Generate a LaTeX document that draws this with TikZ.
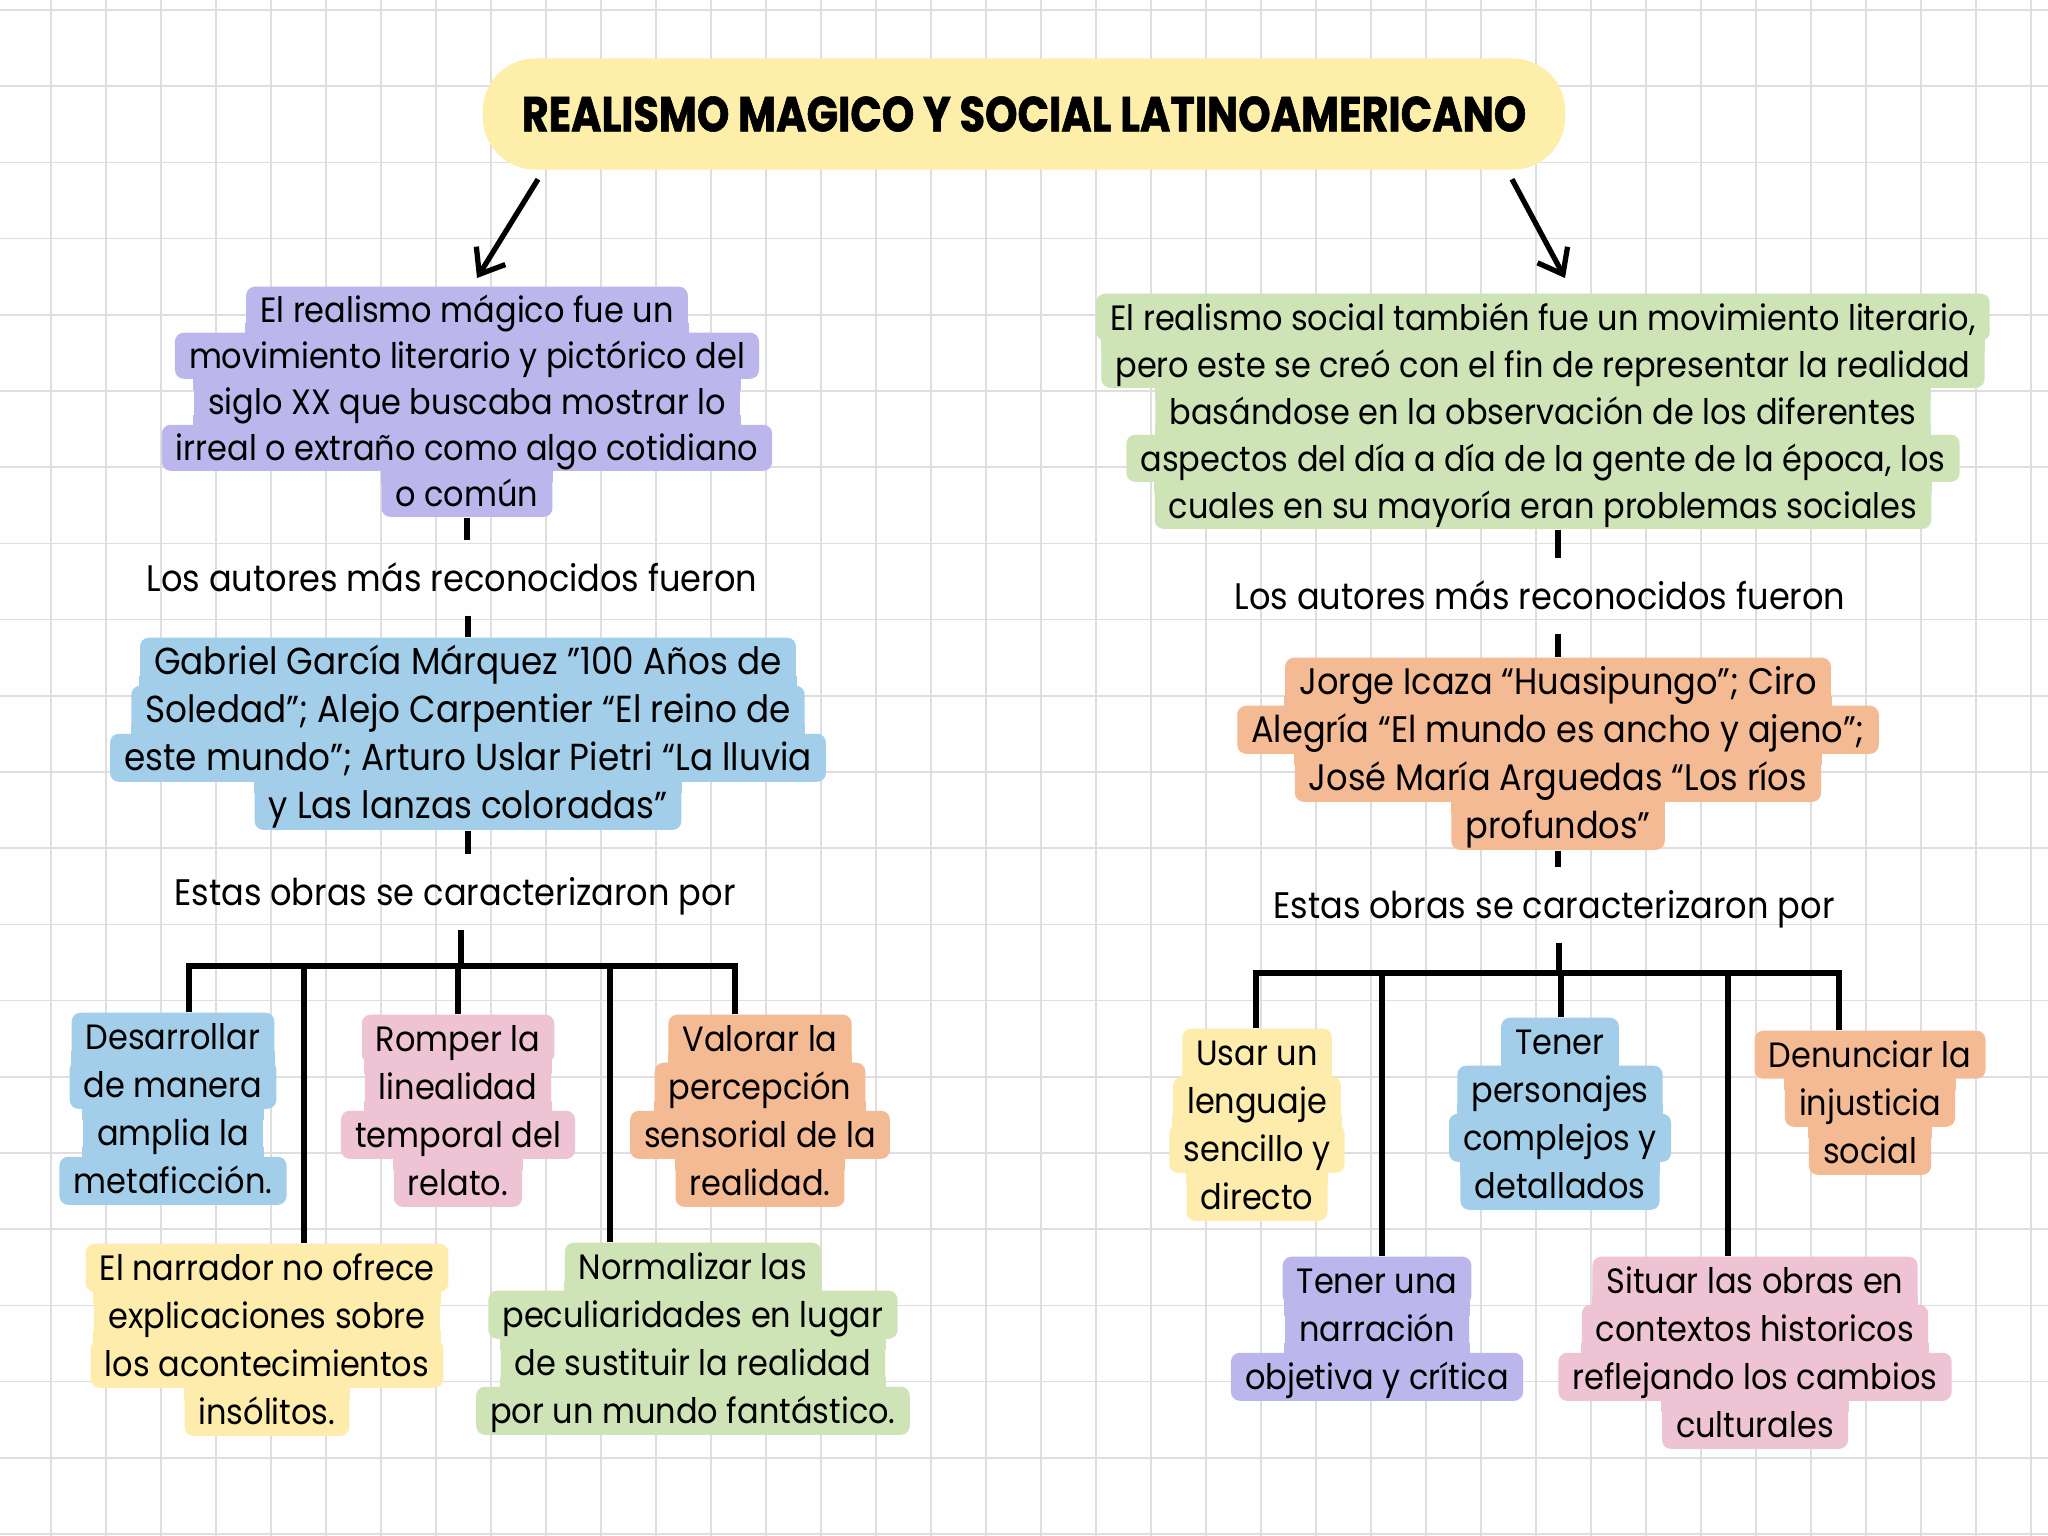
\documentclass[tikz,border=0pt]{standalone}
\usepackage{fontspec}
\setmainfont{Poppins}[FakeStretch=0.91]
\newfontfamily\titlefont{Poppins}[FakeStretch=0.84, FakeBold=1.2]
\usetikzlibrary{positioning,arrows.meta,calc}

\definecolor{paper}{RGB}{254,254,254}
\definecolor{gridc}{RGB}{222,222,222}
\definecolor{cTitle}{RGB}{253,238,170}
\definecolor{cLila}{RGB}{187,182,235}
\definecolor{cVerde}{RGB}{206,228,182}
\definecolor{cAzul}{RGB}{162,206,233}
\definecolor{cNaranja}{RGB}{244,186,148}
\definecolor{cRosa}{RGB}{238,195,212}
\definecolor{cAmarillo}{RGB}{253,236,172}

\pgfdeclarelayer{paperlayer}
\pgfdeclarelayer{bg}
\pgfsetlayers{paperlayer,bg,main}

% one highlighted block: every line gets its own rounded strip
\newcommand{\hlbox}[5][0.48]{%
  \foreach \ln [count=\i, remember=\i as \j (initially 0)] in {#5}{%
    \node[hl=#1, fill=#3, anchor=north, yshift={-(\i-1)*#1cm}] (#2-\i) at (#4) {\ln};
    \ifnum\i>1
      \begin{pgfonlayer}{bg}
        \path[fill=#3] let \p1=(#2-\j.south west), \p2=(#2-\i.north west),
          \p3=(#2-\j.south east), \p4=(#2-\i.north east) in
          ({max(\x1,\x2)},{\y1+3pt}) rectangle ({min(\x3,\x4)},{\y1-3pt});
      \end{pgfonlayer}
    \fi
  }%
}

\begin{document}
\begin{tikzpicture}[x=0.01cm, y=-0.01cm, font=\fontsize{10}{13}\selectfont,
  hl/.style={rounded corners=2.5pt, inner xsep=4pt, inner ysep=0pt,
             text height=10.2pt, text depth=2.8pt, minimum height=#1cm},
  hl/.default=0.48,
  lbl/.style={inner xsep=2pt, inner ysep=4pt, text height=10.2pt, text depth=2.8pt,
              font=\fontsize{10.5}{13}\selectfont},
  tree/.style={line width=1.7pt, line join=miter},
  arr/.style={line width=1.5pt, -{Straight Barb[length=2.2mm,width=3.4mm]}},
  titlebox/.style={fill=cTitle, rounded corners=15pt, minimum width=10.82cm,
                   minimum height=1.11cm, font=\titlefont\bfseries\fontsize{14}{16}\selectfont}]
\useasboundingbox (0,0) rectangle (2048,1536);
\begin{pgfonlayer}{paperlayer}
  \fill[paper] (0,0) rectangle (2048,1536);
  \foreach \gx in {51,106,...,2048} \draw[gridc, line width=0.5pt] (\gx,0) -- (\gx,1536);
  \foreach \gy in {10,86.2,...,1536} \draw[gridc, line width=0.5pt] (0,\gy) -- (2048,\gy);
\end{pgfonlayer}

% title
\node[titlebox] (title) at (1024,114) {REALISMO MAGICO Y SOCIAL LATINOAMERICANO};

% realismo magico
\hlbox[0.46]{magico}{cLila}{467,286}{El realismo mágico fue un, movimiento literario y pictórico del,
  siglo XX que buscaba mostrar lo, irreal o extraño como algo cotidiano, o común}
\node[lbl] (lautmag) at (452,578) {Los autores más reconocidos fueron};
\begin{scope}[font=\fontsize{10.7}{13}\selectfont]
\hlbox{autmag}{cAzul}{468,637}{Gabriel García Márquez ”100 Años de, Soledad”; Alejo Carpentier “El reino de,
  este mundo”; Arturo Uslar Pietri “La lluvia, y Las lanzas coloradas”}
\end{scope}
\node[lbl] (lobrmag) at (455,892) {Estas obras se caracterizaron por};
\hlbox{desarrollar}{cAzul}{173,1012}{Desarrollar, de manera, amplia la, metaficción.}
\hlbox{romper}{cRosa}{458,1014}{Romper la, linealidad, temporal del, relato.}
\hlbox{valorar}{cNaranja}{760,1014}{Valorar la, percepción, sensorial de la, realidad.}
\hlbox{narrador}{cAmarillo}{267,1243}{El narrador no ofrece, explicaciones sobre, los acontecimientos, insólitos.}
\hlbox{normalizar}{cVerde}{693,1242}{Normalizar las, peculiaridades en lugar, de sustituir la realidad, por un mundo fantástico.}

% realismo social
\hlbox[0.47]{social}{cVerde}{1543,293}{{El realismo social también fue un movimiento literario,},
  pero este se creó con el fin de representar la realidad, basándose en la observación de los diferentes,
  {aspectos del día a día de la gente de la época, los}, cuales en su mayoría eran problemas sociales\hspace{0.6em}}
\node[lbl] (lautsoc) at (1540,596) {Los autores más reconocidos fueron};
\begin{scope}[font=\fontsize{10.5}{13}\selectfont]
\hlbox{autsoc}{cNaranja}{1558,657}{Jorge Icaza “Huasipungo”; Ciro, Alegría “El mundo es ancho y ajeno”;,
  José María Arguedas “Los ríos, profundos”}
\end{scope}
\node[lbl] (lobrsoc) at (1554,905) {Estas obras se caracterizaron por};
\hlbox{usar}{cAmarillo}{1257,1028}{Usar un, lenguaje, sencillo y, directo}
\hlbox{personajes}{cAzul}{1560,1017}{Tener, personajes, complejos y, detallados}
\hlbox{denunciar}{cNaranja}{1870,1030}{Denunciar la, injusticia, social}
\hlbox{narracion}{cLila}{1377,1256}{Tener una, narración, objetiva y crítica\hspace{0.6em}}
\hlbox{situar}{cRosa}{1755,1256}{Situar las obras en, contextos historicos, reflejando los cambios, culturales}

% arrows from the title
\draw[arr] ($(title.south)+(-486,9)$) -- ($(magico-1.north)+(10,-8)$);
\draw[arr] ($(title.south)+(488,9)$) -- ($(social-1.north)+(22,-15)$);

% left tree
\draw[tree] (magico-5.south) -- (magico-5.south |- lautmag.north);
\draw[tree] (autmag-1.north |- lautmag.south) -- (autmag-1.north);
\draw[tree] (autmag-4.south) -- (autmag-4.south |- lobrmag.north);
\coordinate (jmag) at (461,966);
\draw[tree] (lobrmag.south -| jmag) -- (jmag);
\foreach \dx/\nd in {189/desarrollar,304/narrador,458/romper,610/normalizar,735/valorar}
  \coordinate (d-\nd) at (\dx,966);
\draw[tree] (d-desarrollar |- desarrollar-1.north) -- (d-desarrollar) -- (d-valorar) -- (d-valorar |- valorar-1.north);
\foreach \nd in {narrador,romper,normalizar}
  \draw[tree] (d-\nd) -- (d-\nd |- \nd-1.north);

% right tree
\draw[tree] (autsoc-1.north |- social-5.south) -- (autsoc-1.north |- lautsoc.north);
\draw[tree] (autsoc-1.north |- lautsoc.south) -- (autsoc-1.north);
\draw[tree] (autsoc-4.south) -- (autsoc-4.south |- lobrsoc.north);
\coordinate (jsoc) at (1559,973);
\draw[tree] (lobrsoc.south -| jsoc) -- (jsoc);
\foreach \dx/\nd in {1256/usar,1382/narracion,1561/personajes,1728/situar,1839/denunciar}
  \coordinate (d-\nd) at (\dx,973);
\draw[tree] (d-usar |- usar-1.north) -- (d-usar) -- (d-denunciar) -- (d-denunciar |- denunciar-1.north);
\foreach \nd in {narracion,personajes,situar}
  \draw[tree] (d-\nd) -- (d-\nd |- \nd-1.north);
\end{tikzpicture}
\end{document}
